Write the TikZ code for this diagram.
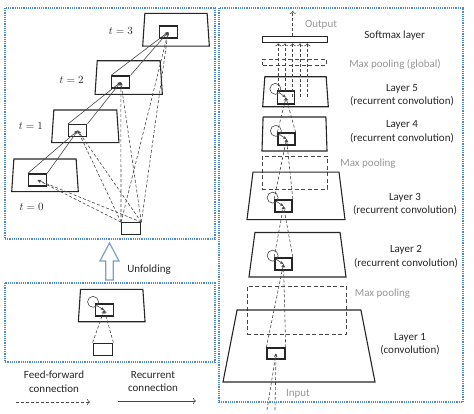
\documentclass[tikz,border=0pt]{standalone}
\usepackage{fontspec}
\setmainfont{Carlito}
\usetikzlibrary{shapes.geometric,arrows.meta,calc}
\definecolor{frameblue}{RGB}{79,139,201}
\definecolor{arrowblue}{RGB}{120,160,210}
\definecolor{labelgray}{RGB}{150,150,150}
\definecolor{linkgray}{RGB}{70,70,70}
\tikzset{
  layer/.style={draw=black!85, line width=1.1pt, trapezium, trapezium angle=#1,
    trapezium stretches=true, inner sep=1pt},
  unit/.style={draw=black!85, line width=1.3pt, rectangle, minimum width=18pt,
    minimum height=12pt, inner sep=0pt},
  unitring/.style={fill=black!85, rectangle, minimum width=18.3pt, minimum height=13.3pt,
    inner sep=0pt, path picture={\fill[white]
      ($(path picture bounding box.south west)+(1.3pt,1.3pt)$) rectangle
      ($(path picture bounding box.north east)+(-1.3pt,-1.3pt)$);}},
  ff/.style={linkgray, dash pattern=on 3pt off 2pt, line width=0.6pt},
  rc/.style={linkgray, line width=0.6pt},
  tip/.style={-{Stealth[length=3.5pt,width=3pt]}},
  boxframe/.style={frameblue, line width=1.3pt, dash pattern=on 1.2pt off 1pt},
  pool/.style={draw=linkgray, dash pattern=on 4pt off 2.5pt, line width=0.9pt, inner sep=0pt},
  txt/.style={font=\fontsize{11}{13.5}\selectfont, align=center, inner sep=0pt, text=black!85},
  graytxt/.style={txt, text=labelgray},
}
\begin{document}
\begin{tikzpicture}[x=1pt,y=-1pt]
\useasboundingbox (0,0) rectangle (474,413);
% panels
\draw[boxframe] (5,8) rectangle (215,239);
\draw[boxframe] (5,283) rectangle (215,362);
\draw[boxframe] (219,8) rectangle (463,402);
% unfolded in time
\node[layer=88, minimum width=66.6pt, minimum height=32.7pt] (t0) at (45,175.3) {};
\node[layer=88, minimum width=67.3pt, minimum height=32.7pt] (t1) at (85.3,126.3) {};
\node[layer=88, minimum width=67.3pt, minimum height=33.6pt] (t2) at (128.7,77.5) {};
\node[layer=88, minimum width=66.6pt, minimum height=32.7pt] (t3) at (176,29.7) {};
\node[unit] (u0) at (37.5,180) {};
\node[unit] (u1) at (77.8,130.5) {};
\node[unit] (u2) at (120.8,82) {};
\node[unit] (u3) at (168.2,32) {};
\node[unit, minimum width=19pt] (uin) at (131.2,228.8) {};
\node[txt] (lt0) at (31.7,207) {$t=0$};
\node[txt] (lt1) at (30.8,126) {$t=1$};
\node[txt] (lt2) at (71.7,80) {$t=2$};
\node[txt] (lt3) at (120.8,31) {$t=3$};
\foreach \k in {0,...,3}{
  \draw[ff,tip] (uin.north west) -- (u\k.center);
  \draw[ff,tip] (uin.north east) -- (u\k.center);
}
\foreach \a/\n in {0/1,1/2,2/3}{
  \draw[rc,tip] (u\a.north west) -- (u\n.center);
  \draw[rc,tip] (u\a.north east) -- (u\n.center);
}
% unfolding arrow
\draw[arrowblue, line width=1.2pt, fill=white] (105.7,280) -- (105.7,261) -- (100,261)
  -- (109.5,243) -- (119,261) -- (113.3,261) -- (113.3,280) -- cycle;
\node[txt] (unfold) at (149,270) {Unfolding};
% folded network
\node[layer=88, minimum width=66.7pt, minimum height=32.4pt] (f) at (111.7,305.5) {};
\node[unit] (fu) at (104.2,310) {};
\node[unit, minimum width=19.5pt, minimum height=12.5pt] (fin) at (103,349.5) {};
\draw[rc] ($(fu.north west)+(-1.5,-1.5)$) circle (5.5pt);
\draw[rc,tip] ($(fu.north west)+(2.4,2.4)$) -- (fu.center);
\draw[ff,tip] (fin.north west) -- (fu.center);
\draw[ff,tip] (fin.north east) -- (fu.center);
% legend
\node[txt] (ffleg) at (54,381.5) {Feed-forward\\connection};
\node[txt] (rcleg) at (153,381.5) {Recurrent\\connection};
\coordinate (ffL) at (16,402);
\coordinate (ffR) at (90,402);
\coordinate (rcL) at (118,401);
\coordinate (rcR) at (196,401);
\draw[ff,->] (ffL) -- (ffR);
\draw[rc,->] (rcL) -- (rcR);
% deep network
\node[draw=black!85, line width=1.1pt, minimum width=65pt, minimum height=6pt, inner sep=0pt] (sm) at (295,39.7) {};
\node[pool, minimum width=64pt, minimum height=5.7pt] (gpool) at (294.7,62.2) {};
\node[layer=88, minimum width=65.6pt, minimum height=30pt] (L5) at (295.5,91.7) {};
\node[layer=89, minimum width=65pt, minimum height=34pt] (L4) at (294.5,134) {};
\node[pool, minimum width=65pt, minimum height=33pt] (mpool) at (294.5,172.5) {};
\node[layer=86, minimum width=98pt, minimum height=47.5pt] (L3) at (296,195.8) {};
\node[layer=86, minimum width=97pt, minimum height=44.5pt] (L2) at (297.5,254.7) {};
\node[pool, minimum width=99pt, minimum height=48pt] (lpool) at (296.5,310) {};
\node[layer=83.5, minimum width=152pt, minimum height=72pt] (L1) at (299,346) {};
\node[unit, minimum width=17pt, minimum height=13pt] (b5) at (286,97.5) {};
\node[unit, minimum width=17pt] (b4) at (286.5,139) {};
\node[unitring] (b3) at (283.5,206) {};
\node[unitring] (b2) at (283.5,264) {};
\node[unit, minimum height=11pt] (b1) at (276,353.5) {};
\foreach \k in {2,...,5}{
  \draw[rc] ($(b\k.north west)+(-1.5,-1.5)$) circle (5.5pt);
  \draw[rc,tip] ($(b\k.north west)+(2.4,2.4)$) -- (b\k.center);
}
\coordinate (inA) at (267,410);
\coordinate (inB) at (275,410);
\draw[ff,tip] (inA) -- (b1.center);
\draw[ff,tip] (inB) -- (b1.center);
\foreach \a/\n in {1/2,2/3,3/4,4/5}{
  \draw[ff,tip] (b\a.north west) -- (b\n.center);
  \draw[ff,tip] (b\a.north east) -- (b\n.center);
}
\foreach \x/\y in {278.3/91,285/91,292.7/97,300/97,307.3/97}
  \draw[ff,->] (\x,\y) -- (\x,0 |- sm.south);
\coordinate (out) at (292.7,11);
\draw[ff,->] (292.7,0 |- sm.north) -- (out);
% labels
\node[graytxt] (lout) at (321,25) {Output};
\node[txt] (lsm) at (394.7,36) {Softmax layer};
\node[graytxt] (lgp) at (395,64) {Max pooling (global)};
\node[txt] (l5) at (402,95) {Layer 5\\(recurrent convolution)};
\node[txt] (l4) at (402,131.5) {Layer 4\\(recurrent convolution)};
\node[graytxt] (lmp) at (368,164) {Max pooling};
\node[txt] (l3) at (405,204) {Layer 3\\(recurrent convolution)};
\node[txt] (l2) at (406,256.7) {Layer 2\\(recurrent convolution)};
\node[graytxt] (llp) at (382.5,293.3) {Max pooling};
\node[txt] (l1) at (410,344) {Layer 1\\(convolution)};
\node[graytxt] (lin) at (298,394) {Input};
\end{tikzpicture}
\end{document}
